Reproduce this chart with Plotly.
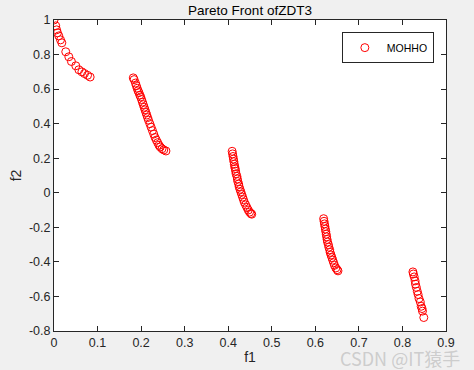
import plotly.graph_objects as go

# Pareto front points (five disconnected segments)
f1_seg1 = [0.000, 0.004, 0.006, 0.008, 0.011, 0.015, 0.018, 0.027, 0.034, 0.040,
           0.050, 0.057, 0.064, 0.070, 0.077, 0.083]
f2_seg1 = [1.000, 0.966, 0.943, 0.926, 0.908, 0.885, 0.868, 0.816, 0.787, 0.760,
           0.735, 0.712, 0.700, 0.690, 0.680, 0.670]

f1_seg2 = [0.182, 0.184, 0.187, 0.189, 0.191, 0.193, 0.195, 0.197, 0.199, 0.201,
           0.203, 0.205, 0.207, 0.209, 0.211, 0.213, 0.215, 0.217, 0.220, 0.223,
           0.226, 0.229, 0.232, 0.235, 0.238, 0.241, 0.244, 0.248, 0.252, 0.257]
f2_seg2 = [0.665, 0.655, 0.635, 0.620, 0.605, 0.590, 0.580, 0.565, 0.555, 0.540,
           0.525, 0.510, 0.495, 0.480, 0.465, 0.450, 0.435, 0.420, 0.400, 0.380,
           0.360, 0.340, 0.320, 0.305, 0.290, 0.275, 0.265, 0.255, 0.248, 0.242]

f1_seg3 = [0.409, 0.410, 0.411, 0.412, 0.413, 0.414, 0.415, 0.416, 0.417, 0.418,
           0.420, 0.421, 0.422, 0.424, 0.425, 0.427, 0.429, 0.431, 0.433, 0.435,
           0.437, 0.440, 0.443, 0.446, 0.449, 0.452, 0.454]
f2_seg3 = [0.240, 0.225, 0.210, 0.195, 0.180, 0.165, 0.150, 0.140, 0.125, 0.110,
           0.095, 0.080, 0.065, 0.050, 0.035, 0.020, 0.005, -0.010, -0.025, -0.040,
           -0.055, -0.070, -0.085, -0.100, -0.112, -0.120, -0.124]

f1_seg4 = [0.619, 0.620, 0.621, 0.622, 0.623, 0.624, 0.625, 0.626, 0.627, 0.628,
           0.630, 0.631, 0.633, 0.634, 0.636, 0.638, 0.640, 0.642, 0.644, 0.647,
           0.650, 0.652]
f2_seg4 = [-0.150, -0.165, -0.180, -0.195, -0.210, -0.225, -0.240, -0.255, -0.270, -0.285,
           -0.300, -0.315, -0.330, -0.345, -0.360, -0.375, -0.390, -0.405, -0.420, -0.435,
           -0.445, -0.452]

f1_seg5 = [0.824, 0.825, 0.827, 0.829, 0.830, 0.832, 0.834, 0.836, 0.838, 0.841,
           0.843, 0.845, 0.846, 0.849]
f2_seg5 = [-0.458, -0.470, -0.487, -0.510, -0.529, -0.548, -0.570, -0.589, -0.612, -0.632,
           -0.657, -0.670, -0.685, -0.722]

f1 = f1_seg1 + f1_seg2 + f1_seg3 + f1_seg4 + f1_seg5
f2 = f2_seg1 + f2_seg2 + f2_seg3 + f2_seg4 + f2_seg5

x_ticks = [0, 0.1, 0.2, 0.3, 0.4, 0.5, 0.6, 0.7, 0.8, 0.9]
x_labels = ["0", "0.1", "0.2", "0.3", "0.4", "0.5", "0.6", "0.7", "0.8", "0.9"]
y_ticks = [-0.8, -0.6, -0.4, -0.2, 0, 0.2, 0.4, 0.6, 0.8, 1]
y_labels = ["-0.8", "-0.6", "-0.4", "-0.2", "0", "0.2", "0.4", "0.6", "0.8", "1"]

axis_color = "#262626"
font_fam = "Liberation Sans, Arial, sans-serif"

fig = go.Figure()
fig.add_trace(go.Scatter(
    x=f1, y=f2, mode="markers", name="MOHHO",
    marker=dict(symbol="circle-open", size=8, color="#ff0000", line=dict(width=1, color="#ff0000")),
))

axis_common = dict(
    showgrid=False, zeroline=False, showline=True, linecolor=axis_color, linewidth=1,
    mirror="ticks", ticks="inside", ticklen=5, tickcolor=axis_color, automargin=False,
    tickfont=dict(family=font_fam, size=12.5, color=axis_color),
)

fig.update_layout(
    width=474, height=370,
    paper_bgcolor="#f0f0f0", plot_bgcolor="#ffffff",
    margin=dict(l=54, r=28, t=20, b=39, autoexpand=False),
    title=dict(text="Pareto Front ofZDT3", x=0.5, xref="paper", y=0.973, yanchor="middle",
               font=dict(family=font_fam, size=13.5, color="#000000"), automargin=False),
    xaxis=dict(range=[0, 0.9], tickvals=x_ticks, ticktext=x_labels,
               title=dict(text="f1", font=dict(family=font_fam, size=14, color=axis_color), standoff=3),
               **axis_common),
    yaxis=dict(range=[-0.8, 1], tickvals=y_ticks, ticktext=y_labels,
               title=dict(text="f2", font=dict(family=font_fam, size=14, color=axis_color), standoff=4),
               **axis_common),
    showlegend=True,
    legend=dict(x=0.969, y=0.961, xanchor="right", yanchor="top",
                bgcolor="#ffffff", bordercolor=axis_color, borderwidth=1,
                font=dict(family=font_fam, size=10.5, color="#000000"),
                itemwidth=34, tracegroupgap=0),
    annotations=[dict(text="CSDN @IT猿手", x=1.041, y=-0.088, xref="paper", yref="paper",
                      xanchor="right", yanchor="middle", showarrow=False,
                      font=dict(family="Noto Sans CJK SC", size=18, color="rgba(200,200,200,0.9)"))],
)

fig.write_html("out.html", config={"displayModeBar": False},
               post_script="document.body.style.margin='0px';document.body.style.overflow='hidden';")
